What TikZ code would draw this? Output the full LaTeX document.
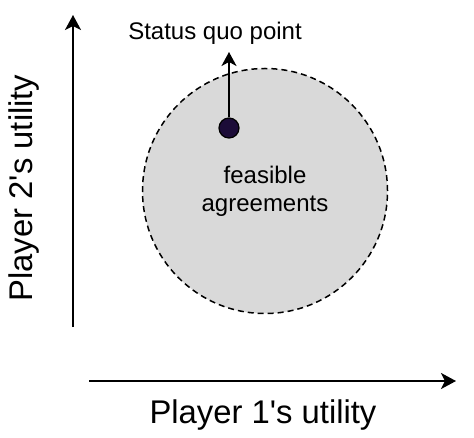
\documentclass[tikz,border=0pt]{standalone}
\usepackage{fontspec}
\setmainfont{Liberation Sans}
\usepackage{xcolor}
\usetikzlibrary{positioning,arrows.meta}

\definecolor{regiongray}{HTML}{D9D9D9}
\definecolor{dotink}{HTML}{1C0C38}

\begin{document}
\begin{tikzpicture}[
  x=0.5pt, y=-0.5pt,
  axis/.style={-{Stealth[length=7.5pt, width=8pt, inset=2pt]}, line width=1pt},
  arr/.style={-{Stealth[length=7pt, width=7.5pt, inset=2pt]}, line width=1pt},
  region/.style={circle, draw, dashed, dash pattern=on 3pt off 2pt, line width=0.75pt, fill=regiongray, minimum size=122.5pt, inner sep=0pt, align=center, font=\fontsize{12}{14}\selectfont},
  sqdot/.style={circle, draw, line width=0.6pt, fill=dotink, minimum size=10pt, inner sep=0pt},
  lbl/.style={font=\fontsize{12}{14}\selectfont, inner sep=1pt},
  axlbl/.style={font=\fontsize{16.4}{19}\selectfont, inner sep=1pt}
]
\useasboundingbox (0,0) rectangle (474,437);

% axes
\coordinate (yfoot) at (73,327);
\coordinate (ytip) at (73,15);
\coordinate (xfoot) at (89,381);
\coordinate (xtip) at (456,381);
\draw[axis] (yfoot) -- (ytip);
\draw[axis] (xfoot) -- (xtip);
\node[axlbl] (xlab) at (263,415) {Player 1\textquotesingle s utility};
\node[axlbl, rotate=90] (ylab) at (24,188) {Player 2\textquotesingle s utility};

% feasible set and status quo
\node[region] (feas) at (265,191) {feasible\\agreements};
\node[sqdot] (sq) at (229,128) {};
\coordinate (sqtip) at (229,52);
\draw[arr] (sq) -- (sqtip);
\node[lbl] (sqlab) at (215,33) {Status quo point};
\end{tikzpicture}
\end{document}
